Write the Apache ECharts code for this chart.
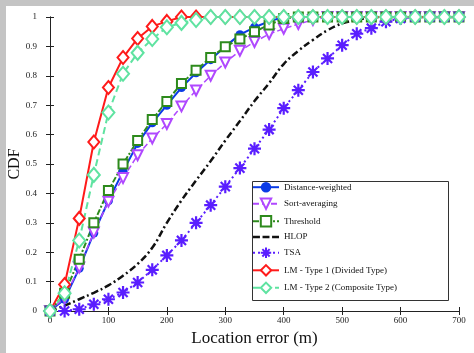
<!DOCTYPE html>
<html>
<head>
<meta charset="utf-8">
<script src="https://cdn.jsdelivr.net/npm/echarts@6/dist/echarts.min.js"></script>
<style>
    html, body { margin: 0; padding: 0; background: #fff; }
    #main { width: 474px; height: 353px; }
</style>
</head>
<body>
<div id="main"></div>
<script>
// location error (m), one point every 25 m
var errors = [0, 25, 50, 75, 100, 125, 150, 175, 200, 225, 250, 275, 300, 325, 350,
    375, 400, 425, 450, 475, 500, 525, 550, 575, 600, 625, 650, 675, 700];

var distanceWeighted = [0, 0.04, 0.145, 0.265, 0.375, 0.475, 0.57, 0.64, 0.70, 0.76, 0.81, 0.855, 0.90, 0.94, 0.965,
    0.985, 1, 1, 1, 1, 1, 1, 1, 1, 1, 1, 1, 1, 1];
var sortAveraging = [0, 0.045, 0.148, 0.267, 0.372, 0.452, 0.53, 0.587, 0.636, 0.696, 0.75, 0.80, 0.845, 0.885, 0.915,
    0.942, 0.96, 0.976, 0.99, 1, 1, 1, 1, 1, 1, 1, 1, 1, 1];
var threshold = [0, 0.06, 0.176, 0.30, 0.41, 0.50, 0.58, 0.651, 0.713, 0.774, 0.819, 0.862, 0.899, 0.925, 0.95,
    0.973, 0.995, 1, 1, 1, 1, 1, 1, 1, 1, 1, 1, 1, 1];
var hlop = [0, 0.018, 0.04, 0.062, 0.087, 0.12, 0.16, 0.215, 0.30, 0.376, 0.444, 0.51, 0.58, 0.646, 0.714,
    0.775, 0.84, 0.885, 0.922, 0.955, 0.978, 0.99, 0.998, 1, 1, 1, 1, 1, 1];
var tsa = [0, 0, 0.006, 0.023, 0.04, 0.063, 0.097, 0.14, 0.189, 0.24, 0.30, 0.36, 0.423, 0.486, 0.552,
    0.617, 0.69, 0.751, 0.813, 0.859, 0.904, 0.943, 0.962, 0.984, 0.995, 1, 1, 1, 1];
var lmType1 = [0, 0.09, 0.315, 0.575, 0.76, 0.862, 0.927, 0.968, 0.985, 1, 1, 1, 1, 1, 1,
    1, 1, 1, 1, 1, 1, 1, 1, 1, 1, 1, 1, 1, 1];
var lmType2 = [0, 0.06, 0.24, 0.463, 0.675, 0.807, 0.878, 0.925, 0.965, 0.98, 0.99, 1, 1, 1, 1,
    1, 1, 1, 1, 1, 1, 1, 1, 1, 1, 1, 1, 1, 1];

var xTicks = [0, 100, 200, 300, 400, 500, 600, 700];

var serif = '"Liberation Serif", "DejaVu Serif", serif';
var asterisk = 'path://M0 -10 L0 10 M-10 0 L10 0 M-7 -7 L7 7 M-7 7 L7 -7';
// legend sample for the plain dashed HLOP line
var dashIcon = 'path://M0 0 h8 v3 h-8 z M11 0 h8 v3 h-8 z M22 0 h8 v3 h-8 z';

function pairs(ys) {
    return errors.map(function (x, i) { return [x, ys[i]]; });
}

function lineSeries(name, ys, color, lineType, width, symbol, size, hollow) {
    return {
        name: name,
        type: 'line',
        data: pairs(ys),
        symbol: symbol,
        symbolSize: size,
        showSymbol: symbol !== 'none',
        lineStyle: { color: color, width: width, type: lineType },
        itemStyle: {
            color: hollow ? '#fff' : color,
            borderColor: color,
            borderWidth: hollow ? 2 : (symbol.indexOf('path') === 0 ? 2.2 : 0)
        },
        emphasis: { disabled: true },
        animation: false
    };
}

var hlopSeries = lineSeries('HLOP', hlop, '#111', [7, 3, 2, 3], 2.5, 'none', 0, false);
hlopSeries.smooth = 0.4;

var sortSeries = lineSeries('Sort-averaging', sortAveraging, '#b048ff', [6, 3], 1.5, 'triangle', 10, true);
sortSeries.symbolRotate = 180;

var chart = echarts.init(document.getElementById('main'));
chart.setOption({
    backgroundColor: '#fff',
    grid: { left: 50, right: 15, top: 17, bottom: 42, containLabel: false, outerBoundsMode: 'none' },
    legend: {
        orient: 'vertical',
        left: 252,
        top: 182,
        padding: 0,
        itemWidth: 26,
        itemHeight: 13,
        itemGap: 5.1,
        textStyle: { fontFamily: serif, fontSize: 9, color: '#111' },
        data: ['Distance-weighted', 'Sort-averaging', 'Threshold',
            { name: 'HLOP', icon: dashIcon, itemStyle: { color: '#111' } },
            'TSA', 'LM - Type 1 (Divided Type)', 'LM - Type 2 (Composite Type)']
    },
    xAxis: [{
        type: 'value',
        min: 0, max: 700, interval: 100,
        name: 'Location error (m)',
        nameLocation: 'middle',
        nameGap: 19,
        nameTextStyle: { fontFamily: serif, fontSize: 17, color: '#111' },
        axisLine: { lineStyle: { color: '#222', width: 1 } },
        axisTick: { inside: true, length: 4, lineStyle: { color: '#222' } },
        axisLabel: {
            fontFamily: serif, fontSize: 9, color: '#222', margin: 5,
            formatter: function (v) { return xTicks.indexOf(v) >= 0 ? v : ''; }
        },
        splitLine: { show: false }
    }, {
        type: 'value',
        position: 'top',
        min: 0, max: 700, interval: 100,
        axisLine: { lineStyle: { color: '#222', width: 1 } },
        axisTick: { inside: true, length: 4, lineStyle: { color: '#222' } },
        axisLabel: { show: false },
        splitLine: { show: false }
    }],
    yAxis: [{
        type: 'value',
        min: 0, max: 1, interval: 0.1,
        name: 'CDF',
        nameLocation: 'middle',
        nameGap: 27,
        nameMoveOverlap: false,
        nameTextStyle: { fontFamily: serif, fontSize: 16, color: '#111' },
        axisLine: { show: true, lineStyle: { color: '#222', width: 1 } },
        axisTick: { show: true, inside: true, length: 4, lineStyle: { color: '#222' } },
        axisLabel: { fontFamily: serif, fontSize: 9, color: '#222', margin: 13 },
        splitLine: { show: false }
    }, {
        type: 'value',
        position: 'right',
        min: 0, max: 1, interval: 0.1,
        axisLine: { show: true, lineStyle: { color: '#222', width: 1 } },
        axisTick: { show: true, inside: true, length: 4, lineStyle: { color: '#222' } },
        axisLabel: { show: false },
        splitLine: { show: false }
    }],
    graphic: [{
        type: 'rect',
        left: 250, top: 179,
        shape: { width: 196, height: 119 },
        style: { fill: 'none', stroke: '#333', lineWidth: 1 },
        z: 1
    }, {
        type: 'rect',
        left: 0, top: 0,
        shape: { width: 474, height: 353 },
        style: { fill: 'none', stroke: '#c4c4c4', lineWidth: 6 },
        z: 100
    }],
    series: [
        lineSeries('Distance-weighted', distanceWeighted, '#0b3be6', 'solid', 2, 'circle', 9, false),
        sortSeries,
        lineSeries('Threshold', threshold, '#2d8a1c', [6, 2, 2, 2], 2, 'rect', 9, true),
        hlopSeries,
        lineSeries('TSA', tsa, '#5a1eff', [2, 3], 2, asterisk, 13, false),
        lineSeries('LM - Type 1 (Divided Type)', lmType1, '#ff1a1a', 'solid', 2, 'diamond', [11, 13], true),
        lineSeries('LM - Type 2 (Composite Type)', lmType2, '#5fe3a1', [7, 4], 2, 'diamond', [12, 14], true)
    ]
});
</script>
</body>
</html>
